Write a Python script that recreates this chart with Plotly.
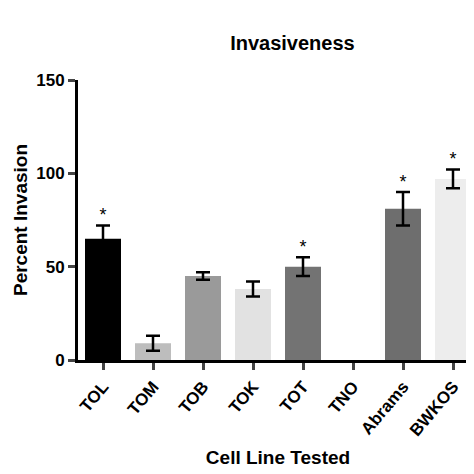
import plotly.graph_objects as go

cells = ["TOL", "TOM", "TOB", "TOK", "TOT", "TNO", "Abrams", "BWKOS"]
invasion = [65, 9, 45, 38, 50, None, 81, 97]
sem = [7, 4, 2, 4, 5, 0, 9, 5]
stars = ["*", "", "", "", "*", "", "*", "*"]
colors = ["#000000", "#bdbdbd", "#9a9a9a", "#e2e2e2", "#737373", "#ffffff", "#6e6e6e", "#ededed"]

tops = [v + s if v is not None else None for v, s in zip(invasion, sem)]

fig = go.Figure()
# error bars first so the bars hide the lower caps
fig.add_trace(go.Scatter(
    x=cells, y=invasion, mode="markers", marker=dict(size=1, color="rgba(0,0,0,0)"),
    error_y=dict(type="data", array=sem, color="black", thickness=2.5, width=7),
    hoverinfo="skip",
))
fig.add_trace(go.Bar(
    x=cells, y=invasion,
    marker=dict(color=colors, line=dict(width=0)),
    width=0.72,
))
fig.add_trace(go.Scatter(
    x=cells, y=tops, mode="text", text=stars, textposition="top center",
    textfont=dict(size=18, color="black"), cliponaxis=False, hoverinfo="skip",
))

fig.update_layout(
    width=474, height=474,
    paper_bgcolor="white", plot_bgcolor="white",
    margin=dict(l=70, r=4, t=72, b=122),
    font=dict(family="Liberation Sans, Arial", color="black"),
    title=dict(text="<b>Invasiveness</b>", x=0.6, y=0.94, font=dict(size=20)),
    showlegend=False,
)
fig.update_yaxes(range=[0, 150], tickvals=[0, 50, 100, 150],
                 ticktext=["<b>0</b>", "<b>50</b>", "<b>100</b>", "<b>150</b>"], showgrid=False,
                 zeroline=False,
                 showline=True, linewidth=3, linecolor="black", ticks="outside",
                 ticklen=7, tickwidth=3, tickfont=dict(size=17),
                 title=dict(text="<b>Percent Invasion</b>", font=dict(size=19), standoff=4))
fig.update_xaxes(showline=True, linewidth=3, linecolor="black", ticks="outside",
                 ticklen=7, tickwidth=3, tickangle=-50,
                 tickfont=dict(size=17),
                 tickvals=cells, ticktext=[f"<b>{c}</b>" for c in cells],
                 title=dict(text="<b>Cell Line Tested</b>", font=dict(size=19), standoff=12))

fig.write_html("out.html")
